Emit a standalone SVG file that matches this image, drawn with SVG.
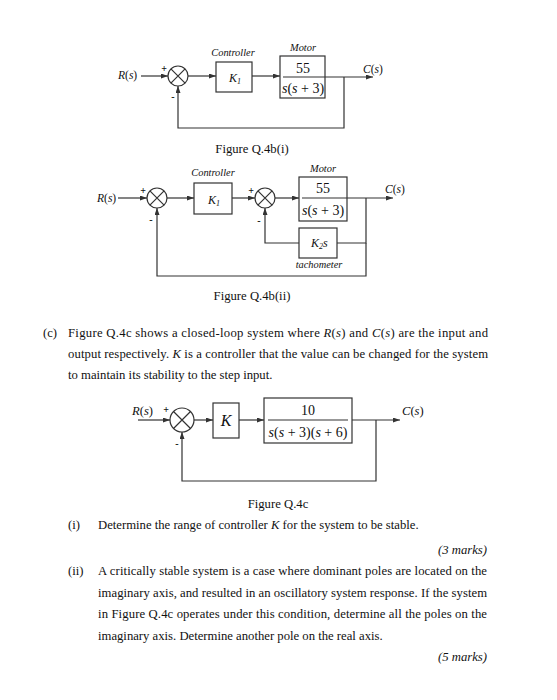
<svg xmlns="http://www.w3.org/2000/svg" width="557" height="700" viewBox="0 0 557 700">
<style>
text{font-family:"Liberation Serif","Times New Roman",serif;fill:#111}
.ln{fill:none;stroke:#333;stroke-width:1.2}
.bx{fill:#fff;stroke:#333;stroke-width:1.2}
.lbl{font-size:10.4px;font-style:italic;text-anchor:middle}
.sg{font-size:10px;font-weight:bold;text-anchor:middle}
.io{font-size:11.5px}
.it{font-style:italic}
.body{font-size:12.7px}
.frac{font-size:14px;text-anchor:middle}
.mk{font-size:12.7px;font-style:italic;text-anchor:end}
</style>
<defs>
<marker id="ah" viewBox="0 0 7 5" refX="7" refY="2.5" markerWidth="7" markerHeight="5" markerUnits="userSpaceOnUse" orient="auto"><path d="M0,0 L7,2.5 L0,5 z" fill="#333"/></marker>
</defs>
<rect width="557" height="700" fill="#fff"/>

<!-- ================= Figure Q.4b(i) ================= -->
<g id="f1-connectors">
<path class="ln" d="M141,76 H168" marker-end="url(#ah)"/>
<path class="ln" d="M188,76 H216" marker-end="url(#ah)"/>
<path class="ln" d="M252,76 H280" marker-end="url(#ah)"/>
<path class="ln" d="M325,77 H373" marker-end="url(#ah)"/>
<path class="ln" d="M344,77 V128 H178 V86" marker-end="url(#ah)"/>
</g>
<g id="f1-input"><text class="io" x="118" y="79"><tspan class="it">R</tspan>(<tspan class="it">s</tspan>)</text></g>
<g id="f1-sum">
<circle class="bx" cx="178" cy="76" r="10"/>
<path class="ln" d="M170.9,68.9 L185.1,83.1 M185.1,68.9 L170.9,83.1"/>
<text class="sg" x="164" y="72">+</text>
<text class="sg" x="173" y="100">-</text>
</g>
<g id="f1-controller">
<text class="lbl" x="233" y="56">Controller</text>
<rect class="bx" x="216" y="62" width="36" height="30"/>
<text x="229" y="82" font-size="12"><tspan class="it">K</tspan><tspan class="it" font-size="8" dy="2">1</tspan></text>
</g>
<g id="f1-motor">
<text class="lbl" x="303" y="51">Motor</text>
<rect class="bx" x="280" y="56" width="45" height="42"/>
<text class="frac" x="303" y="73">55</text>
<path class="ln" d="M283,77 H325"/>
<text class="frac" x="303" y="93"><tspan class="it">s</tspan>(<tspan class="it">s</tspan> + 3)</text>
</g>
<g id="f1-output"><text class="io" x="363" y="73"><tspan class="it">C</tspan>(<tspan class="it">s</tspan>)</text></g>
<text class="body" x="252" y="153" text-anchor="middle">Figure Q.4b(i)</text>

<!-- ================= Figure Q.4b(ii) ================= -->
<g id="f2-connectors">
<path class="ln" d="M118,198 H147" marker-end="url(#ah)"/>
<path class="ln" d="M167,198 H194" marker-end="url(#ah)"/>
<path class="ln" d="M232,198 H255" marker-end="url(#ah)"/>
<path class="ln" d="M275,198 H299" marker-end="url(#ah)"/>
<path class="ln" d="M347,198 H393" marker-end="url(#ah)"/>
<path class="ln" d="M366,198 V243 H337"/>
<path class="ln" d="M299,243 H265 V208" marker-end="url(#ah)"/>
<path class="ln" d="M366,243 V276 H157 V208" marker-end="url(#ah)"/>
</g>
<g id="f2-input"><text class="io" x="97" y="202"><tspan class="it">R</tspan>(<tspan class="it">s</tspan>)</text></g>
<g id="f2-sum1">
<circle class="bx" cx="157" cy="198" r="10"/>
<path class="ln" d="M149.9,190.9 L164.1,205.1 M164.1,190.9 L149.9,205.1"/>
<text class="sg" x="143" y="194">+</text>
<text class="sg" x="151" y="223">-</text>
</g>
<g id="f2-controller">
<text class="lbl" x="213" y="176">Controller</text>
<rect class="bx" x="194" y="183" width="38" height="31"/>
<text x="208" y="204" font-size="12"><tspan class="it">K</tspan><tspan class="it" font-size="8" dy="2">1</tspan></text>
</g>
<g id="f2-sum2">
<circle class="bx" cx="265" cy="198" r="10"/>
<path class="ln" d="M257.9,190.9 L272.1,205.1 M272.1,190.9 L257.9,205.1"/>
<text class="sg" x="251" y="194">+</text>
<text class="sg" x="259" y="224">-</text>
</g>
<g id="f2-motor">
<text class="lbl" x="323" y="172">Motor</text>
<rect class="bx" x="299" y="177" width="48" height="44"/>
<text class="frac" x="323" y="193">55</text>
<path class="ln" d="M302,198 H347"/>
<text class="frac" x="323" y="215"><tspan class="it">s</tspan>(<tspan class="it">s</tspan> + 3)</text>
</g>
<g id="f2-tacho">
<rect class="bx" x="299" y="228" width="38" height="30"/>
<text x="311" y="247" font-size="12"><tspan class="it">K</tspan><tspan class="it" font-size="8" dy="2">2</tspan><tspan class="it" dy="-2">s</tspan></text>
<text class="lbl" x="319" y="268">tachometer</text>
</g>
<g id="f2-output"><text class="io" x="385" y="193"><tspan class="it">C</tspan>(<tspan class="it">s</tspan>)</text></g>
<text class="body" x="252" y="300" text-anchor="middle">Figure Q.4b(ii)</text>

<!-- ================= Paragraph (c) ================= -->
<text class="body" x="43" y="337">(c)</text>
<text class="body" x="68" y="337" textLength="420" lengthAdjust="spacing">Figure Q.4c shows a closed-loop system where <tspan class="it">R</tspan>(<tspan class="it">s</tspan>) and <tspan class="it">C</tspan>(<tspan class="it">s</tspan>) are the input and</text>
<text class="body" x="68" y="358" textLength="420" lengthAdjust="spacing">output respectively. <tspan class="it">K</tspan> is a controller that the value can be changed for the system</text>
<text class="body" x="68" y="379">to maintain its stability to the step input.</text>

<!-- ================= Figure Q.4c ================= -->
<g id="f3-connectors">
<path class="ln" d="M138,420 H170" marker-end="url(#ah)"/>
<path class="ln" d="M194,420 H213" marker-end="url(#ah)"/>
<path class="ln" d="M239,420 H264" marker-end="url(#ah)"/>
<path class="ln" d="M352,420 H400" marker-end="url(#ah)"/>
<path class="ln" d="M376,420 V481 H182 V432" marker-end="url(#ah)"/>
</g>
<g id="f3-input"><text x="132" y="415" font-size="12.6"><tspan class="it">R</tspan>(<tspan class="it">s</tspan>)</text></g>
<g id="f3-sum">
<circle class="bx" cx="182" cy="420" r="12"/>
<path class="ln" d="M173.5,411.5 L190.5,428.5 M190.5,411.5 L173.5,428.5"/>
<text class="sg" x="166" y="413">+</text>
<text class="sg" x="177" y="447">-</text>
</g>
<g id="f3-controller">
<rect class="bx" x="213" y="403" width="26" height="35"/>
<text x="226" y="426" font-size="16" font-style="italic" text-anchor="middle">K</text>
</g>
<g id="f3-plant">
<rect class="bx" x="264" y="398" width="88" height="45"/>
<text class="frac" x="308" y="415">10</text>
<path class="ln" d="M268,420 H348"/>
<text class="frac" x="308" y="437"><tspan class="it">s</tspan>(<tspan class="it">s</tspan> + 3)(<tspan class="it">s</tspan> + 6)</text>
</g>
<g id="f3-output"><text x="402" y="415" font-size="12.6"><tspan class="it">C</tspan>(<tspan class="it">s</tspan>)</text></g>
<text class="body" x="278" y="508" text-anchor="middle">Figure Q.4c</text>

<!-- ================= Questions ================= -->
<text class="body" x="68" y="529">(i)</text>
<text class="body" x="98" y="529">Determine the range of controller <tspan class="it">K</tspan> for the system to be stable.</text>
<text class="mk" x="487" y="554">(3 marks)</text>
<text class="body" x="68" y="575">(ii)</text>
<text class="body" x="98" y="575" textLength="389" lengthAdjust="spacing">A critically stable system is a case where dominant poles are located on the</text>
<text class="body" x="98" y="597" textLength="389" lengthAdjust="spacing">imaginary axis, and resulted in an oscillatory system response. If the system</text>
<text class="body" x="98" y="618" textLength="389" lengthAdjust="spacing">in Figure Q.4c operates under this condition, determine all the poles on the</text>
<text class="body" x="98" y="640">imaginary axis. Determine another pole on the real axis.</text>
<text class="mk" x="487" y="661">(5 marks)</text>
</svg>
